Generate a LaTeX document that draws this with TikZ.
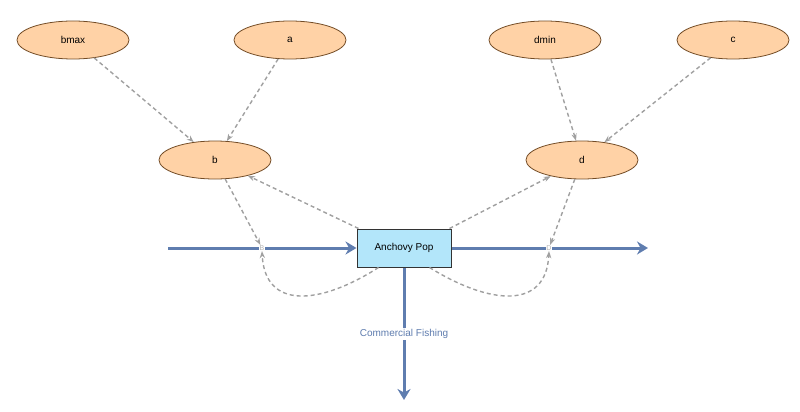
\documentclass[tikz,border=0pt]{standalone}
\usepackage{fontspec}
\setmainfont{Liberation Sans}
\usetikzlibrary{shapes.geometric,arrows.meta}
\definecolor{flowc}{RGB}{95,125,175}
\definecolor{depc}{RGB}{160,160,160}
\begin{document}
\begin{tikzpicture}[x=1pt,y=-1pt,
 aux/.style={ellipse,draw=brown!60!black,line width=0.8pt,fill=orange!35,minimum width=112pt,minimum height=38pt,font=\normalsize,inner sep=0pt},
 dep/.style={draw=depc,dash pattern=on 4pt off 3pt,line width=1.4pt,-{Stealth[length=7pt]}},
 flow/.style={draw=flowc,line width=3pt,-{Stealth[length=11pt,width=13pt]}}]
\useasboundingbox (0,0) rectangle (800,412);
\node[aux] (bmax) at (73,40) {bmax};
\node[aux] (a) at (290,40) {a};
\node[aux] (dmin) at (545,40) {dmin};
\node[aux] (c) at (733,40) {c};
\node[aux] (b) at (215,160) {b};
\node[aux] (d) at (582,160) {d};
\node[draw=gray!40!black,fill=cyan!30,minimum width=94pt,minimum height=38pt,line width=1pt,font=\normalsize] (pop) at (404,248) {Anchovy Pop};
\coordinate (src) at (168,248);
\coordinate (snk) at (648,248);
\coordinate (fish) at (404,400);
\node[inner sep=0.5pt,font=\scriptsize,text=gray!60] (B) at (262,248) {B};
\node[inner sep=0.5pt,font=\scriptsize,text=gray!60] (D) at (549,248) {D};
\draw[flow] (src) -- (B) -- (pop);
\draw[flow] (pop) -- (D) -- (snk);
\draw[flow] (pop) -- (fish);
\node[fill=white,font=\normalsize,text=flowc,inner sep=1pt] (cf) at (404,334) {Commercial Fishing};
\draw[dep] (bmax) -- (b);
\draw[dep] (a) -- (b);
\draw[dep] (dmin) -- (d);
\draw[dep] (c) -- (d);
\coordinate (p1) at ([xshift=2pt]pop.north west);
\coordinate (p2) at ([xshift=-2pt]pop.north east);
\coordinate (p3) at ([xshift=22pt]pop.south west);
\coordinate (p4) at ([xshift=-22pt]pop.south east);
\draw[dep] (p1) -- (b);
\draw[dep] (p2) -- (d);
\draw[dep] (b) -- (B);
\draw[dep] (d) -- (D);
\draw[dep] (p3) .. controls (320,305) and (265,310) .. (B.south);
\draw[dep] (p4) .. controls (490,305) and (546,310) .. (D.south);
\end{tikzpicture}
\end{document}
